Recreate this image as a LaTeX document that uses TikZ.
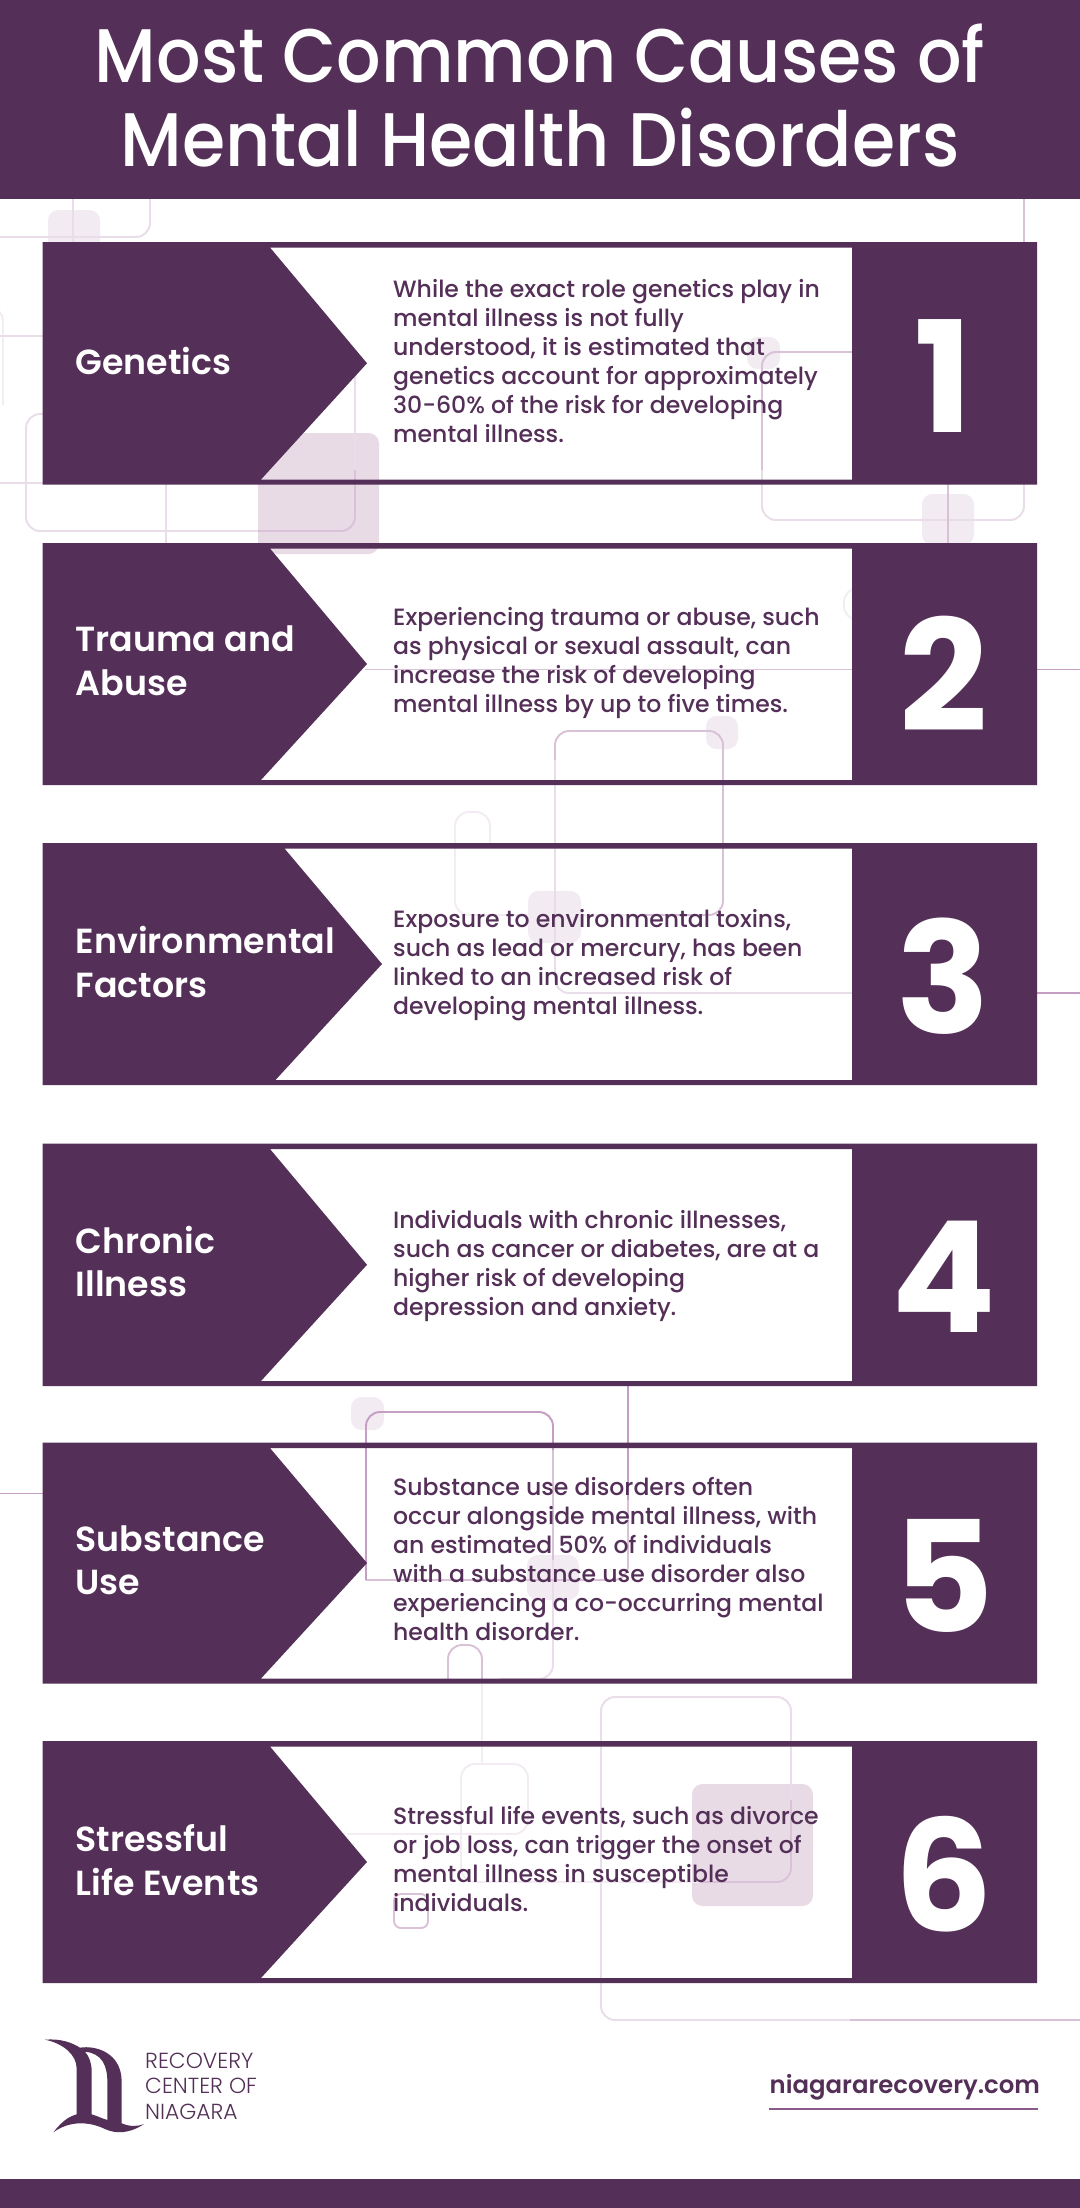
\documentclass[tikz,border=0pt]{standalone}
\usepackage{fontspec}
\setmainfont{Poppins}
\newfontfamily\titlefont[FakeStretch=.92]{Poppins Medium}
\newfontfamily\bodyfont{Poppins Medium}
\newfontfamily\headfont{Poppins SemiBold}
\newfontfamily\numfont{Poppins Bold}
\newfontfamily\logofont{Poppins Light}
\definecolor{plum}{HTML}{542F58}
\definecolor{lineA}{HTML}{F3ECF3}
\definecolor{lineB}{HTML}{E9DDE9}
\definecolor{lineC}{HTML}{D9C2D8}
\definecolor{lineD}{HTML}{C59EC4}
\definecolor{fillA}{HTML}{F2EBF2}
\definecolor{fillB}{HTML}{E8DBE6}
\definecolor{rulecol}{HTML}{8A5A8A}
\tikzset{
  deco/.style={line width=.55pt,rounded corners=4pt},
  softbox/.style={rounded corners=3pt},
  titletext/.style={anchor=base,inner sep=0pt,white,align=center,font=\titlefont\fontsize{21.6}{23.9}\selectfont},
  cardhead/.style={anchor=base west,inner sep=0pt,white,align=left,font=\headfont\fontsize{9.9}{12.25}\selectfont},
  cardtext/.style={anchor=base west,inner sep=0pt,plum,align=left,font=\bodyfont\fontsize{6.7}{8.21}\selectfont},
  cardnum/.style={anchor=base,inner sep=0pt,white,font=\numfont\fontsize{44}{44}\selectfont},
  logotext/.style={anchor=base west,inner sep=0pt,plum,font=\logofont\fontsize{6.2}{6.5}\selectfont},
}
\begin{document}
\begin{tikzpicture}[x=.01cm,y=-.01cm]
  \useasboundingbox[fill=white] (0,0) rectangle (1080,2208);
  % pale squares
  \fill[fillA,softbox] (48,210) rectangle (100,262);
  \fill[fillB,softbox] (258,433) rectangle (379,554);
  \fill[fillA,softbox] (747,337) rectangle (780,369);
  \fill[fillA,softbox] (922,494) rectangle (974,545);
  \fill[fillA,softbox] (706,716) rectangle (738,749);
  \fill[fillA,softbox] (528,891) rectangle (581,943);
  \fill[fillA,softbox] (351,1397) rectangle (384,1430);
  \fill[fillA,softbox] (527,1555) rectangle (579,1600);
  \fill[fillB,softbox] (692,1784) rectangle (813,1906);
  % background lines
  \draw[deco,lineB] (0,237) -- (150,237) -- (150,199);
  \draw[deco,lineB] (73,199) -- (73,242);
  \draw[deco,lineA] (0,307) -- (3,307) -- (3,405);
  \draw[deco,lineB] (0,336) -- (43,336);
  \draw[deco,lineB] (43,414) -- (26,414) -- (26,531) -- (355,531) -- (355,350);
  \draw[deco,lineC] (258,531) -- (355,531) -- (355,470);
  \draw[deco,lineB] (0,483) -- (43,483);
  \draw[deco,lineB] (166,484) -- (166,543);
  \draw[deco,lineB] (1024,199) -- (1024,520) -- (762,520) -- (762,352) -- (852,352);
  \draw[deco,lineC] (1024,199) -- (1024,242);
  \draw[deco,lineC] (852,352) -- (762,352) -- (762,470);
  \draw[deco,lineC] (948,484) -- (948,543);
  \draw[deco,lineA] (852,588) -- (844,588) -- (844,620) -- (852,620);
  \draw[deco,lineC] (365,669.5) -- (852,669.5);
  \draw[deco,lineD] (1037,669.5) -- (1080,669.5);
  \draw[deco,lineC] (723,843) -- (723,731) -- (555,731) -- (555,760);
  \draw[deco,lineC] (723,760) -- (723,915) -- (640,915);
  \draw[deco,lineA] (640,915) -- (455,915) -- (455,812) -- (490,812) -- (490,843);
  \draw[deco,lineB] (555,760) -- (555,993) -- (852,993);
  \draw[deco,lineD] (1037,993) -- (1080,993);
  \draw[deco,lineB] (553,1560) -- (553,1679) -- (500,1679);
  \draw[deco,lineC] (553,1450) -- (553,1560);
  \draw[deco,lineC] (628,1500) -- (628,1580) -- (366,1580);
  \draw[deco,lineD] (628,1386) -- (628,1500);
  \draw[deco,lineD] (366,1580) -- (366,1412) -- (553,1412) -- (553,1450);
  \draw[deco,lineD] (0,1493.5) -- (43,1493.5);
  \draw[deco,lineC] (448,1683) -- (448,1645) -- (482,1645) -- (482,1683);
  \draw[deco,lineA] (482,1683) -- (482,1764);
  \draw[deco,lineA] (347,1834) -- (528,1834) -- (528,1764) -- (461,1764) -- (461,1882) -- (700,1882);
  \draw[deco,lineB] (601,1760) -- (601,1697) -- (791,1697) -- (791,1800);
  \draw[deco,lineC] (791,1800) -- (791,1882) -- (700,1882);
  \draw[deco,lineB] (601,1760) -- (601,2020) -- (850,2020);
  \draw[deco,lineC] (850,2020) -- (1080,2020);
  \draw[deco,lineC,rounded corners=2pt] (394,1894) rectangle (428,1928);
  % bands and cards
  \fill[plum] (0,0) rectangle (1080,199);
  \fill[plum] (0,2179) rectangle (1080,2208);
  \foreach \yt/\yb/\xa/\xt/\xb in {242/484.5/270/367/261,543/785/270/367/261,843/1085/284.5/382/275.5,1143.5/1386/270/367/261,1442.5/1683.5/270/367/261,1741/1983/270/367/261}
    \fill[plum,even odd rule] (42.5,\yt) rectangle (1037,\yb)
      (\xa,\yt+5.5) -- (852,\yt+5.5) -- (852,\yb-5) -- (\xb,\yb-5) -- (\xt,{(\yt+\yb)/2}) -- cycle;
  % title
  \node[titletext] (title1) at (540,82) {Most Common Causes of};
  \node[titletext] (title2) at (540,166) {Mental Health Disorders};
  % cards
  \node[cardhead] (head1) at (75,374) {Genetics};
  \node[cardhead] (head2) at (75,695) {Trauma and\\Abuse};
  \node[cardhead] (head3) at (75,997) {Environmental\\Factors};
  \node[cardhead] (head4) at (75,1296.5) {Chronic\\Illness};
  \node[cardhead] (head5) at (75,1594.5) {Substance\\Use};
  \node[cardhead] (head6) at (75,1895) {Stressful\\Life Events};
  \node[cardtext] (body1) at (392.5,442) {While the exact role genetics play in\\mental illness is not fully\\understood, it is estimated that\\genetics account for approximately\\30-60\% of the risk for developing\\mental illness.};
  \node[cardtext] (body2) at (392.5,712) {Experiencing trauma or abuse, such\\as physical or sexual assault, can\\increase the risk of developing\\mental illness by up to five times.};
  \node[cardtext] (body3) at (392.5,1014) {Exposure to environmental toxins,\\such as lead or mercury, has been\\linked to an increased risk of\\developing mental illness.};
  \node[cardtext] (body4) at (392.5,1315) {Individuals with chronic illnesses,\\such as cancer or diabetes, are at a\\higher risk of developing\\depression and anxiety.};
  \node[cardtext] (body5) at (392.5,1640) {Substance use disorders often\\occur alongside mental illness, with\\an estimated 50\% of individuals\\with a substance use disorder also\\experiencing a co-occurring mental\\health disorder.};
  \node[cardtext] (body6) at (392.5,1911) {Stressful life events, such as divorce\\or job loss, can trigger the onset of\\mental illness in susceptible\\individuals.};
  \foreach \n/\y in {1/432,2/731.5,3/1033,4/1332,5/1632,6/1931}
    \node[cardnum] (num\n) at (943.5,\y) {\n};
  % logo
  \begin{scope}[shift={(30,2025)},scale=1/3]
    \fill[plum,even odd rule] (45,44) .. controls (90,40) and (125,52) .. (150,68)
      .. controls (200,60) and (275,85) .. (275,170) -- (275,295)
      .. controls (300,305) and (320,305) .. (342,297)
      .. controls (300,325) and (260,328) .. (225,312)
      .. controls (180,290) and (120,285) .. (70,322)
      .. controls (95,290) and (115,275) .. (140,268) -- (140,130)
      .. controls (140,90) and (100,55) .. (45,44)
      (165,80) .. controls (215,85) and (232,120) .. (232,170) -- (232,285)
      .. controls (215,280) and (200,272) .. (185,268) -- (185,140)
      .. controls (185,115) and (178,95) .. (165,80);
  \end{scope}
  \node[logotext] (logo1) at (144.5,2068) {RECOVERY};
  \node[logotext] (logo2) at (144.5,2093) {CENTER OF};
  \node[logotext] (logo3) at (144.5,2119) {NIAGARA};
  % site
  \node[anchor=base west,inner sep=0pt,plum,font=\headfont\fontsize{6.93}{9}\selectfont] (site) at (769,2093) {niagararecovery.com};
  \draw[rulecol,line width=.75pt] (site.west |- 0,2109) -- (1038,2109);
\end{tikzpicture}
\end{document}
